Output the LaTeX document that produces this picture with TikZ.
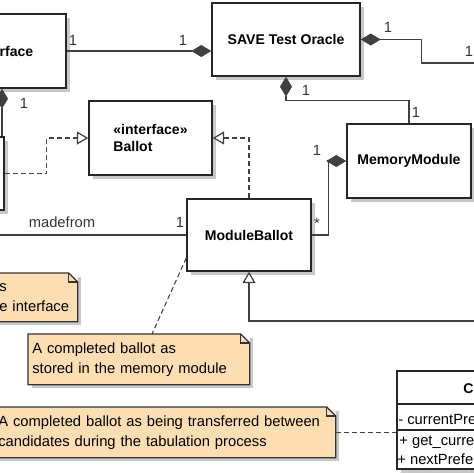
\documentclass[tikz,border=0pt]{standalone}
\usepackage{fontspec}
\setmainfont{Liberation Sans}
\usetikzlibrary{arrows.meta,calc,shadows}
\definecolor{notefill}{RGB}{252,222,178}
\definecolor{shade}{RGB}{200,200,200}

\begin{document}
\begin{tikzpicture}[x=0.2mm, y=-0.2mm,
  font=\fontsize{8.4}{11}\selectfont,
  cls/.style={draw=black!85, line width=0.8pt, fill=white, inner sep=0pt,
    drop shadow={shadow xshift=0.8mm, shadow yshift=-0.8mm, fill=shade, opacity=1},
    font=\fontsize{8}{10.2}\selectfont\bfseries},
  note/.style={fill=notefill, inner xsep=0.8mm, inner ysep=0pt, align=left, anchor=north west,
    drop shadow={shadow xshift=0.8mm, shadow yshift=-0.8mm, fill=shade, opacity=1},
    font=\fontsize{8.4}{11.3}\selectfont},
  noteline/.style={draw=black!80, line width=0.7pt},
  link/.style={draw=black!75, line width=0.7pt},
  comp/.style={link, arrows={Diamond[length=4mm, width=2.4mm]-}},
  gener/.style={link, arrows={-Triangle[open, length=2.3mm, width=2.6mm]}},
  real/.style={gener, dash pattern=on 1mm off 0.6mm},
  dotlink/.style={draw=black!75, line width=0.6pt, dash pattern=on 1mm off 0.6mm},
  mult/.style={text=black!80, inner sep=0pt}]

\useasboundingbox (0,0) rectangle (474,474);
\clip (0,0) rectangle (474,474);

% classes
\node[cls, minimum width=19.8mm, minimum height=14.8mm] (iface) at (16.5,51) {rface};
\node[cls, minimum width=29.6mm, minimum height=14.6mm] (oracle) at (286,39.5) {SAVE Test Oracle};
\node[cls, minimum width=24.8mm, minimum height=14.8mm] (memmod) at (409,161) {MemoryModule};
\node[cls, minimum width=24.6mm, minimum height=14.8mm, align=left] (ballot) at (150.5,138) {«interface»\\Ballot};
\node[cls, minimum width=24.8mm, minimum height=14.4mm] (modball) at (249,235) {ModuleBallot};
\node[cls, minimum width=17.6mm, minimum height=14.6mm] (lbox) at (-40,173.5) {};
\node[cls, minimum width=32mm, minimum height=19.6mm] (cand) at (477,420) {};

\draw[draw=black!85, line width=0.8pt] (cand.west |- 0,404) -- (cand.east |- 0,404);
\draw[draw=black!85, line width=0.8pt] (cand.west |- 0,430) -- (cand.east |- 0,430);
\node[font=\fontsize{8}{10}\selectfont\bfseries, anchor=west, inner sep=0pt] (cname) at (463,389) {C};
\node[anchor=west, inner sep=0pt] (cattr) at (398,419) {- currentPre};
\node[anchor=west, inner sep=0pt] (cop1) at (399,442) {+ get\_curre};
\node[anchor=west, inner sep=0pt] (cop2) at (397,459) {+ nextPrefe};

% notes
\node[note, text width=14.8mm, minimum height=9.6mm] (note1) at (-5,273) {s\\e interface};
\node[note, text width=42.6mm, minimum height=10mm] (note2) at (28,334) {A completed ballot as\\stored in the memory module};
\node[note, text width=66.6mm, minimum height=10mm] (note3) at (-6,407) {A completed ballot as being transferred between\\candidates during the tabulation process};

\fill[white] ($(note1.north east)+(-9,0)$) -- (note1.north east) -- ($(note1.north east)+(0,9)$) -- cycle;
\draw[noteline] (note1.north west) -- ($(note1.north east)+(-9,0)$) -- ($(note1.north east)+(0,9)$) -- (note1.south east) -- (note1.south west) -- cycle;
\draw[noteline] ($(note1.north east)+(-9,0)$) |- ($(note1.north east)+(0,9)$);

\fill[white] ($(note2.north east)+(-9,0)$) -- (note2.north east) -- ($(note2.north east)+(0,9)$) -- cycle;
\draw[noteline] (note2.north west) -- ($(note2.north east)+(-9,0)$) -- ($(note2.north east)+(0,9)$) -- (note2.south east) -- (note2.south west) -- cycle;
\draw[noteline] ($(note2.north east)+(-9,0)$) |- ($(note2.north east)+(0,9)$);

\fill[white] ($(note3.north east)+(-9,0)$) -- (note3.north east) -- ($(note3.north east)+(0,9)$) -- cycle;
\draw[noteline] (note3.north west) -- ($(note3.north east)+(-9,0)$) -- ($(note3.north east)+(0,9)$) -- (note3.south east) -- (note3.south west) -- cycle;
\draw[noteline] ($(note3.north east)+(-9,0)$) |- ($(note3.north east)+(0,9)$);

% connectors
\coordinate (ifcbot) at (iface.south -| 2,0);
\coordinate (exit1) at (490,63);
\coordinate (exit2) at (490,321);
\coordinate (mfstart) at (-10,235);

\draw[comp] (iface.east -| oracle.west) -- (iface.east);
\draw[comp] (oracle.east) -- ++(61,0) |- (exit1);
\draw[comp] (oracle.south) -- ++(0,24) -| (memmod.north);
\draw[comp] (memmod.west) -- ++(-18,0) |- (modball.east);
\draw[comp] (ifcbot) -- (ifcbot |- lbox.north);
\draw[real] (lbox.east) -- ++(42,0) |- (ballot.west);
\draw[real] (modball.north) |- (ballot.east);
\draw[link] (mfstart) -- (modball.west);
\draw[gener] (exit2) -| (modball.south);
\draw[dotlink] (modball.west |- 0,258) -- (note2.north -| 152,0);
\draw[dotlink] (note3.east) -- (note3.east -| cand.west);

% multiplicities
\node[mult] (m1) at (73,40) {1};
\node[mult] (m2) at (183,40) {1};
\node[mult] (m3) at (388,27) {1};
\node[mult] (m4) at (469,51) {1};
\node[mult] (m5) at (306,90) {1};
\node[mult] (m6) at (416,112) {1};
\node[mult] (m7) at (317,150) {1};
\node[mult] (m8) at (317,223) {*};
\node[mult] (m9) at (180,222) {1};
\node[mult] (m10) at (24,103) {1};
\node[mult] (made) at (62,222) {madefrom};
\end{tikzpicture}
\end{document}
